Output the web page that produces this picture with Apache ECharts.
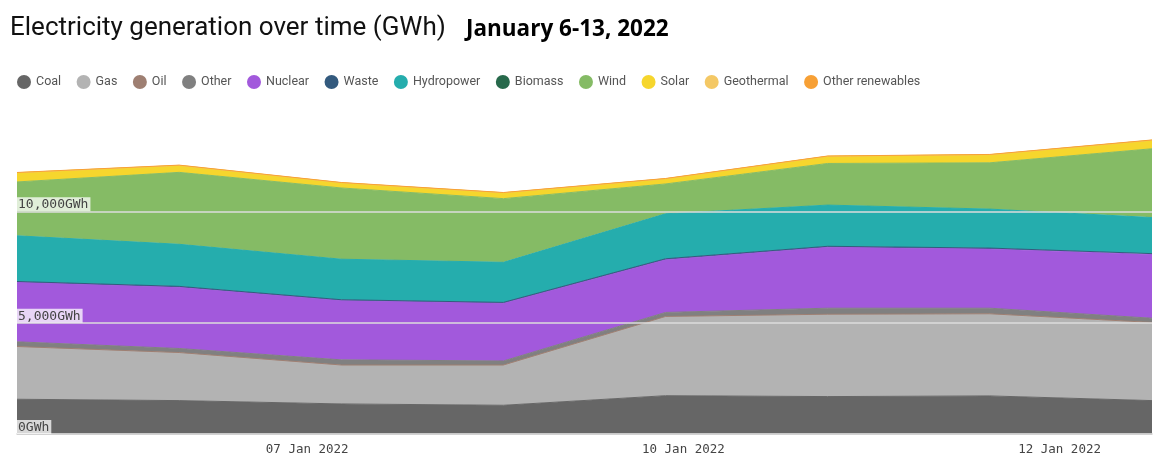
<!DOCTYPE html>
<html>
<head>
<meta charset="utf-8">
<title>Electricity generation over time</title>
<script src="https://cdn.jsdelivr.net/npm/echarts@6/dist/echarts.min.js"></script>
<style>
  html, body { margin: 0; padding: 0; background: #fff; }
  #myChart { width: 1161px; height: 468px; }
</style>
</head>
<body>
<div id="myChart"></div>
<script>
// 数据：每日发电量 (GWh)
const days = ['2022-01-06', '2022-01-07', '2022-01-08', '2022-01-09', '2022-01-10', '2022-01-11', '2022-01-12', '2022-01-13'];
const coal = [1560, 1500, 1350, 1290, 1720, 1680, 1710, 1500];
const gas = [2340, 2130, 1720, 1780, 3530, 3670, 3660, 3480];
const oil = [30, 30, 30, 30, 30, 30, 30, 30];
const other = [210, 180, 230, 180, 180, 270, 250, 190];
const nuclear = [2670, 2750, 2660, 2590, 2370, 2740, 2660, 2860];
const waste = [40, 40, 40, 40, 40, 40, 40, 40];
const hydropower = [2050, 1890, 1820, 1800, 2020, 1850, 1750, 1620];
const biomass = [10, 10, 10, 10, 10, 10, 10, 10];
const wind = [2410, 3220, 3190, 2850, 1330, 1860, 2070, 3080];
const solar = [410, 310, 230, 260, 230, 320, 360, 380];
const geothermal = [5, 5, 5, 5, 5, 5, 5, 5];
const otherRenewables = [10, 10, 10, 10, 10, 10, 10, 10];

// x 轴刻度文字 (位置按数据序号)
const tickLabels = ['07 Jan 2022', '10 Jan 2022', '12 Jan 2022'];
const tickAt = [1.79, 4.11, 6.43];
const yTicks = [0, 5000, 10000];

const sources = [
  { name: 'Coal', data: coal, color: '#666666' },
  { name: 'Gas', data: gas, color: '#b3b3b3' },
  { name: 'Oil', data: oil, color: '#9e7f72' },
  { name: 'Other', data: other, color: '#808080' },
  { name: 'Nuclear', data: nuclear, color: '#a259dc' },
  { name: 'Waste', data: waste, color: '#335a7e' },
  { name: 'Hydropower', data: hydropower, color: '#25adad' },
  { name: 'Biomass', data: biomass, color: '#27694b', line: 0 },
  { name: 'Wind', data: wind, color: '#85bb65' },
  { name: 'Solar', data: solar, color: '#f6d62d' },
  { name: 'Geothermal', data: geothermal, color: '#f4c865' },
  { name: 'Other renewables', data: otherRenewables, color: '#f7a035' }
];

let myChart = echarts.init(document.getElementById('myChart'));
myChart.setOption({
  animation: false,
  title: [{
    text: 'Electricity generation over time (GWh)',
    left: 5,
    top: 10,
    textStyle: { fontFamily: 'Roboto', fontSize: 26, fontWeight: 'normal', color: '#111' }
  }, {
    text: 'January 6-13, 2022',
    left: 461,
    top: 13,
    textStyle: { fontFamily: 'Open Sans', fontSize: 22.5, fontWeight: 'bold', color: '#000' }
  }],
  legend: {
    left: 12,
    top: 70,
    icon: 'circle',
    itemWidth: 14,
    itemHeight: 14,
    itemGap: 15.5,
    textStyle: { fontFamily: 'Roboto', fontSize: 12.5, color: '#555' },
    data: sources.map(s => s.name)
  },
  grid: { left: 17, right: 9, top: 100, bottom: 34 },
  xAxis: [{
    type: 'category',
    data: days,
    boundaryGap: false,
    axisLine: { show: true, lineStyle: { color: '#cccccc', width: 1.5 } },
    axisTick: { show: false },
    axisLabel: { show: false },
    z: 5
  }, {
    type: 'value',
    position: 'bottom',
    min: 0,
    max: days.length - 1,
    axisLine: { show: false },
    axisTick: { show: false },
    splitLine: { show: false },
    axisLabel: {
      customValues: tickAt,
      formatter: function (v) { return tickLabels[tickAt.indexOf(v)]; },
      fontFamily: 'DejaVu Sans Mono',
      fontSize: 12.5,
      color: '#444',
      margin: 9
    }
  }],
  yAxis: {
    type: 'value',
    min: 0,
    max: 15000,
    interval: 5000,
    z: 5,
    axisLine: { show: false },
    axisTick: { show: false },
    splitLine: { lineStyle: { color: ['#dddddd', '#dddddd', '#dddddd', 'rgba(0,0,0,0)'], width: 1.5 } },
    axisLabel: {
      inside: true,
      margin: 0,
      verticalAlign: 'bottom',
      fontFamily: 'DejaVu Sans Mono',
      fontSize: 13,
      color: '#444',
      backgroundColor: 'rgba(255,255,255,0.75)',
      padding: [1, 2, 0, 1],
      formatter: function (v) {
        if (yTicks.indexOf(v) < 0) return '';
        return v.toLocaleString('en-US') + 'GWh';
      }
    }
  },
  series: sources.map(s => ({
    name: s.name,
    type: 'line',
    stack: 'total',
    xAxisIndex: 0,
    data: s.data,
    showSymbol: false,
    color: s.color,
    lineStyle: { width: s.line === 0 ? 0 : 1, color: s.color },
    areaStyle: { color: s.color, opacity: 1 }
  }))
});
</script>
</body>
</html>
